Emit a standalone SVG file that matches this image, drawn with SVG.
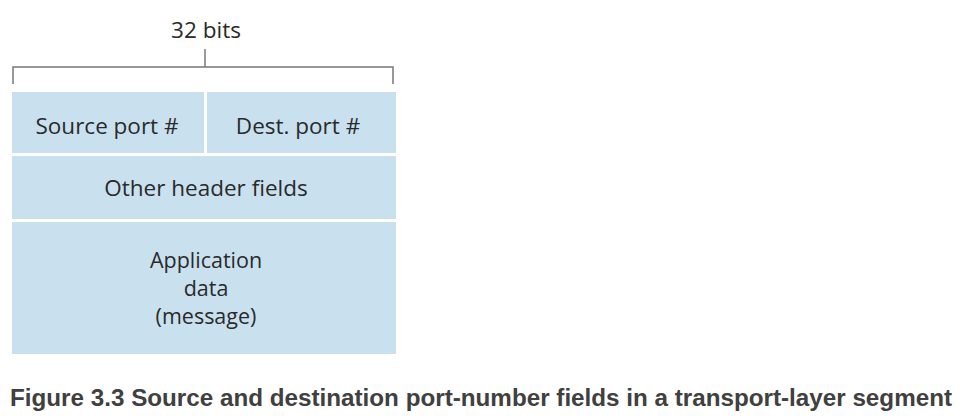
<svg xmlns="http://www.w3.org/2000/svg" width="966" height="416" viewBox="0 0 966 416">
<style>
.cell{fill:#c9e1ef;}
.lbl{font-family:"Open Sans","Noto Sans",sans-serif;font-size:22.5px;fill:#2a2a2a;text-anchor:middle;}
.app{font-size:21.5px;}
.br{fill:none;stroke:#777;stroke-width:1.5;}
.cap{font-family:"Liberation Sans",Arial,sans-serif;font-weight:bold;font-size:23px;fill:#404040;}
</style>
<rect width="966" height="416" fill="#fff"/>
<g id="connectors">
<path class="br" d="M13,84 V67 H393 V84"/>
<path class="br" d="M205,49 V67"/>
</g>
<g id="bits"><text class="lbl" x="206" y="38">32 bits</text></g>
<g id="src"><rect class="cell" x="12" y="92" width="192" height="61"/><text class="lbl" x="107" y="134">Source port #</text></g>
<g id="dst"><rect class="cell" x="207" y="92" width="189" height="61"/><text class="lbl" x="298" y="134">Dest. port #</text></g>
<g id="other"><rect class="cell" x="12" y="156" width="384" height="63"/><text class="lbl" x="206" y="196">Other header fields</text></g>
<g id="app"><rect class="cell" x="12" y="222" width="384" height="132"/>
<text class="lbl app" x="206" y="268">Application</text>
<text class="lbl app" x="206" y="296">data</text>
<text class="lbl app" x="206" y="324">(message)</text></g>
<g id="caption"><text class="cap" x="10" y="406" textLength="942" lengthAdjust="spacingAndGlyphs">Figure 3.3 Source and destination port-number fields in a transport-layer segment</text></g>
</svg>
